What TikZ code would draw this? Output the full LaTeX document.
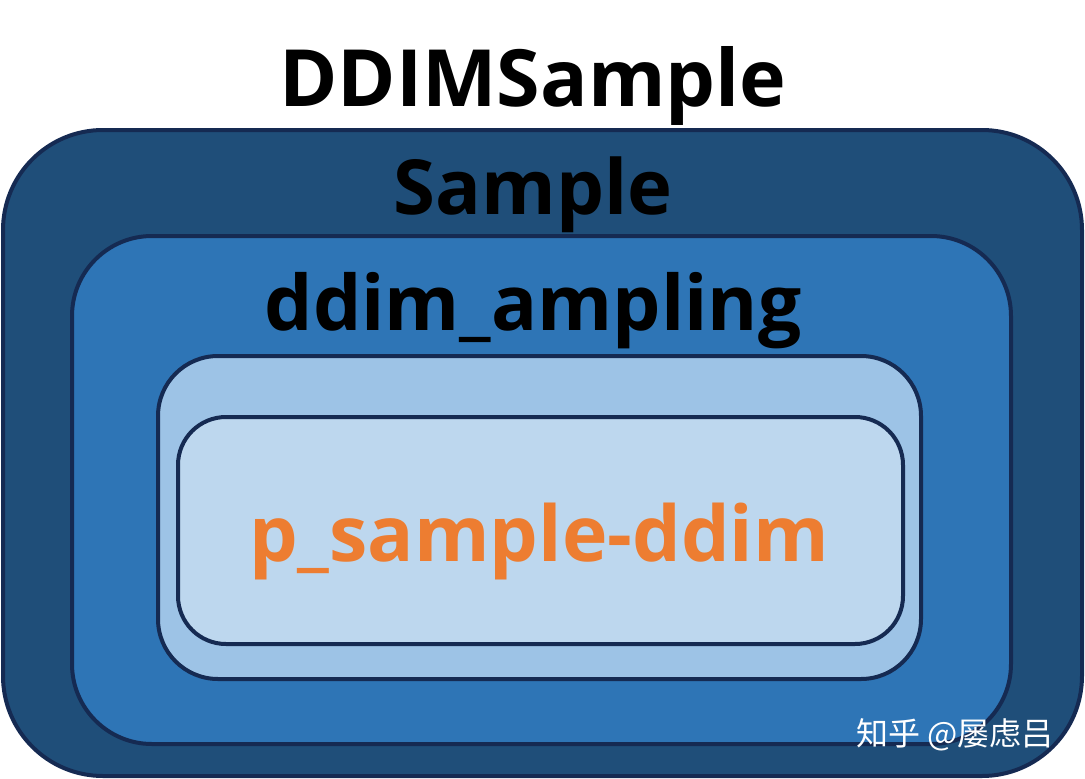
\documentclass[tikz,border=0pt]{standalone}
\usepackage{fontspec}
\setmainfont{Open Sans}
\newfontfamily\cjk{Noto Sans CJK SC}
\definecolor{bordc}{HTML}{152A52}
\definecolor{c1}{HTML}{1F4E79}
\definecolor{c2}{HTML}{2E75B6}
\definecolor{c3}{HTML}{9DC3E6}
\definecolor{c4}{HTML}{BDD7EE}
\definecolor{orng}{HTML}{ED7D31}
\tikzset{
  boxc/.style={draw=bordc, line width=4pt},
  lbl/.style={font=\bfseries, text=black, inner sep=0pt, anchor=base},
}
\begin{document}
\begin{tikzpicture}[x=1pt,y=-1pt]
\useasboundingbox (0,0) rectangle (1085,779);
\fill[white] (0,0) rectangle (1085,779);
\draw[boxc, fill=c1, rounded corners=100pt] (3,130) rectangle (1082,776);
\draw[boxc, fill=c2, rounded corners=80pt] (72,236) rectangle (1011,744);
\draw[boxc, fill=c3, rounded corners=60pt] (158,356) rectangle (921,679);
\draw[boxc, fill=c4, rounded corners=48pt] (178,417) rectangle (903,644);
\node[lbl, font=\bfseries\fontsize{79}{84}\selectfont] (t1) at (533,106) {DDIMSample};
\node[lbl, font=\bfseries\fontsize{76}{80}\selectfont] (t2) at (533,214) {Sample};
\node[lbl, font=\bfseries\fontsize{76.5}{80}\selectfont] (t3) at (533,330) {ddim\_ampling};
\node[lbl, font=\bfseries\fontsize{77}{80}\selectfont, text=orng] (t4) at (539,561) {p\_sample-ddim};
\node[inner sep=0pt, anchor=base, text=white, font=\cjk\fontsize{32}{34}\selectfont] (wm) at (955,745) {知乎 @屡虑吕};
\end{tikzpicture}
\end{document}
